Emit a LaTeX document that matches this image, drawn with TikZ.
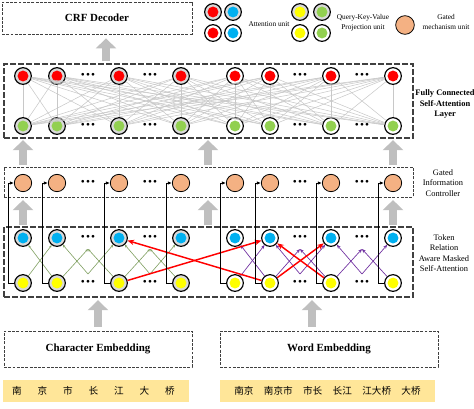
\documentclass[tikz,border=0pt]{standalone}
\usepackage{fontspec}
\setmainfont{Liberation Serif}
\newfontfamily\cjk{Noto Sans CJK SC}
\usetikzlibrary{arrows.meta}

\definecolor{attred}{HTML}{FF0000}
\definecolor{attblue}{HTML}{00B0F0}
\definecolor{qkvyellow}{HTML}{FFFF00}
\definecolor{qkvgreen}{HTML}{92D050}
\definecolor{gateorange}{HTML}{F4B183}
\definecolor{ringgray}{HTML}{D9D9D9}
\definecolor{boxgray}{HTML}{404040}
\definecolor{fatgray}{HTML}{BFBFBF}
\definecolor{fcgray}{HTML}{C8C8C8}
\definecolor{chargreen}{HTML}{7F9F60}
\definecolor{wordpurple}{HTML}{7030A0}
\definecolor{bandgold}{HTML}{FFE699}

\newcommand{\wgap}{\hspace{7.8pt}}
\newcommand{\gapdots}{\textbullet\kern0.9pt\textbullet\kern0.9pt\textbullet}

\tikzset{
  attunit/.style 2 args={circle, draw=black, line width=0.85pt, fill=#1, inner sep=0pt,
    minimum size=12.5pt,
    path picture={\fill[#2] (path picture bounding box.center) circle (4.1pt);}},
  gateunit/.style={circle, draw=black, line width=0.6pt, fill=gateorange, inner sep=0pt,
    minimum size=13pt},
  ellip/.style={inner sep=0pt, font=\fontsize{8.5}{8.5}\selectfont},
  bigbox/.style={draw=boxgray, line width=0.8pt, dash pattern=on 4.5pt off 1.5pt,
    minimum width=306.75pt},
  smallbox/.style={draw=boxgray, line width=0.6pt, dash pattern=on 2.2pt off 1pt},
  boxtitle/.style={font=\fontsize{8.2}{10}\selectfont\bfseries},
  sidetext/.style={align=center, font=\fontsize{6.3}{7.9}\selectfont},
  legendtext/.style={align=center, font=\fontsize{5.5}{7.5}\selectfont},
  hanzi/.style={font=\cjk\fontsize{7.2}{8}\selectfont, inner sep=0pt},
  band/.style={fill=bandgold, minimum height=16.5pt, inner sep=0pt},
  fatarrow/.style={draw=fatgray, line width=6.5pt, -{Triangle[width=15pt, length=7.5pt]}},
  gateline/.style={draw=black, line width=0.6pt, -{Latex[length=3pt, width=2.6pt]}},
}

\begin{document}
\begin{tikzpicture}[x=0.75pt, y=-0.75pt]
\useasboundingbox (0,0) rectangle (474,408);

% boxes
\node[smallbox, boxtitle, minimum width=142.5pt, minimum height=24pt] (crf) at (97,18) {CRF Decoder};
\node[bigbox, minimum height=55.5pt] (fcbox) at (208.5,101) {};
\node[smallbox, minimum width=306.75pt, minimum height=22.5pt] (gatebox) at (208.5,182) {};
\node[bigbox, minimum height=52.5pt] (tokbox) at (208.5,262) {};
\node[smallbox, boxtitle, minimum width=141pt, minimum height=27pt] (charemb) at (98,349) {Character Embedding};
\node[smallbox, boxtitle, minimum width=163.5pt, minimum height=27pt] (wordemb) at (329,349) {Word Embedding};

% legend
\node[attunit={ringgray}{attred}] (lr1) at (213,12) {};
\node[attunit={ringgray}{attblue}] (lb1) at (233,12) {};
\node[attunit={white}{attred}] (lr2) at (213,33) {};
\node[attunit={white}{attblue}] (lb2) at (233,33) {};
\node[legendtext] (latt) at (269,24) {Attention unit};
\node[attunit={ringgray}{qkvyellow}] (ly1) at (300,12) {};
\node[attunit={ringgray}{qkvgreen}] (lg1) at (322,12) {};
\node[attunit={white}{qkvyellow}] (ly2) at (300,33) {};
\node[attunit={white}{qkvgreen}] (lg2) at (322,33) {};
\node[legendtext] (lqkv) at (363,22.5) {Query-Key-Value\\Projection unit};
\node[gateunit, minimum size=14pt] (lgate) at (405,25) {};
\node[legendtext] (lgatetxt) at (446,22) {Gated\\mechanism unit};

% units, one column at a time
\foreach \x/\ring [count=\i] in {23/ringgray, 57/ringgray, 119/ringgray, 181/ringgray,
                                 235/white, 270/white, 331/white, 393/white} {
  \node[attunit={\ring}{attred}] (r\i) at (\x,76) {};
  \node[attunit={\ring}{qkvgreen}] (g\i) at (\x,126) {};
  \node[gateunit] (o\i) at (\x,183) {};
  \node[attunit={\ring}{attblue}] (b\i) at (\x,238) {};
  \node[attunit={\ring}{qkvyellow}] (y\i) at (\x,283) {};
}
\foreach \xd [count=\n] in {88,150,300,362} {
  \node[ellip] (dr\n) at (\xd,76) {\gapdots};
  \node[ellip] (dg\n) at (\xd,126) {\gapdots};
  \node[ellip] (dgate\n) at (\xd,183) {\gapdots};
  \node[ellip] (db\n) at (\xd,238) {\gapdots};
  \node[ellip] (dy\n) at (\xd,283) {\gapdots};
}
\foreach \xd [count=\n] in {88,150,300,362} {
  \coordinate (t\n) at (\xd,249);
  \coordinate (l\n) at (\xd,274);
}

% side labels
\node[sidetext] (fclbl) at (445,104) {\textbf{Fully Connected}\\\textbf{Self-Attention}\\\textbf{Layer}};
\node[sidetext] (gatelbl) at (443,183) {Gated\\Information\\Controller};
\node[sidetext] (toklbl) at (444,253) {Token\\Relation\\Aware Masked\\Self-Attention};

% fully connected layer
\begin{scope}[every edge/.style={draw=fcgray, line width=0.4pt}]
  \foreach \i in {1,...,8} \foreach \j in {1,...,8} \path (g\i) edge (r\j);
\end{scope}

% masked attention inside characters and inside words
\begin{scope}[every edge/.style={draw=chargreen, line width=0.45pt, -{Stealth[length=2.2pt, width=1.8pt]}}]
  \foreach \la/\ua/\lb/\ub in {y1/b1/y2/b2, y2/b2/l1/t1, l1/t1/y3/b3, y3/b3/l2/t2, l2/t2/y4/b4}
    {\path (\la) edge (\ub) (\lb) edge (\ua);}
\end{scope}
\begin{scope}[every edge/.style={draw=wordpurple, line width=0.5pt, -{Stealth[length=3pt, width=2.4pt]}}]
  \foreach \la/\ua/\lb/\ub in {y5/b5/y6/b6, y6/b6/l3/t3, l3/t3/y7/b7, y7/b7/l4/t4, l4/t4/y8/b8}
    {\path (\la) edge (\ub) (\lb) edge (\ua);}
\end{scope}
\begin{scope}[every edge/.style={draw=attred, line width=1.1pt, -{Stealth[length=5pt, width=4pt]}}]
  \path (y3) edge (b6);
  \path (y6) edge (b3);
  \path (y6) edge (b7);
  \path (y7) edge (b6);
\end{scope}

% gates
\foreach \i in {1,...,8} \draw[gateline] (y\i.west) -- ++(-6,0) |- (o\i.west);

% big arrows
\coordinate (crfin) at (106,0);
\coordinate (midcol) at (208,0);
\coordinate (wordin) at (312,0);
\draw[fatarrow, shorten <=1.5pt, shorten >=3pt] (fcbox.north -| crfin) -- (crf.south -| crfin);
\foreach \c in {o1,midcol,o8} {
  \draw[fatarrow, shorten <=1.2pt, shorten >=1.2pt] (gatebox.north -| \c) -- (fcbox.south -| \c);
  \draw[fatarrow, shorten <=1.2pt, shorten >=2pt] (tokbox.north -| \c) -- (gatebox.south -| \c);
}
\draw[fatarrow, shorten <=3pt, shorten >=2pt] (charemb.north) -- (tokbox.south -| charemb.north);
\draw[fatarrow, shorten <=3pt, shorten >=2pt] (wordemb.north -| wordin) -- (tokbox.south -| wordin);

% input text
\node[band, minimum width=139.5pt] (charband) at (96,391) {};
\node[band, minimum width=161.25pt] (wordband) at (327.5,391) {};
\foreach \c [count=\i from 0] in {南,京,市,长,江,大,桥}
  \node[hanzi] (h\i) at (17+25.5*\i,391) {\c};
\node[hanzi] (words) at (327.5,391) {南京\wgap 南京市\wgap 市长\wgap 长江\wgap 江大桥\wgap 大桥};
\end{tikzpicture}
\end{document}
